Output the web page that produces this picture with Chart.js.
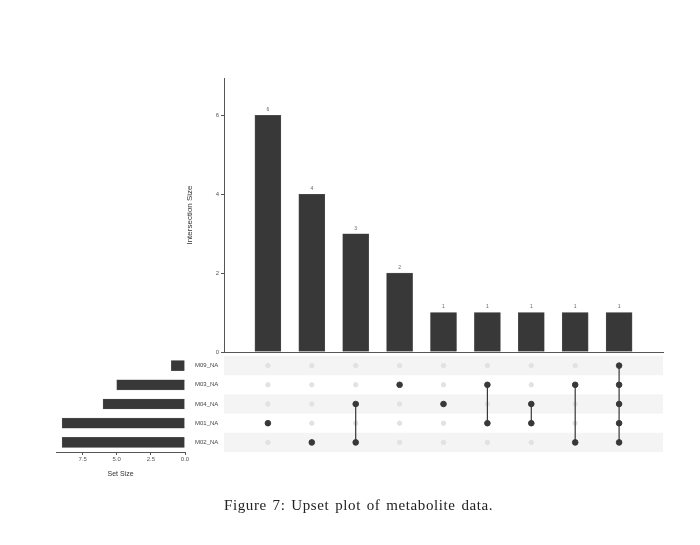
<!DOCTYPE html>
<html>
<head>
<meta charset="utf-8">
<script src="https://cdn.jsdelivr.net/npm/chart.js@4"></script>
<style>
	body { margin: 0; background: #fff; }
	#wrap { position: relative; width: 700px; height: 545px; }
	canvas { position: absolute; left: 0; top: 0; }
	#caption {
		position: absolute; left: 224px; top: 497px; white-space: nowrap;
		font-family: "Liberation Serif", serif; font-size: 15px; color: #222;
		letter-spacing: 0.6px; word-spacing: 1.5px;
	}
</style>
</head>
<body>
<div id="wrap">
	<canvas id="bars" width="700" height="545"></canvas>
	<canvas id="matrix" width="700" height="545"></canvas>
	<canvas id="sets" width="700" height="545"></canvas>
	<div id="caption">Figure 7: Upset plot of metabolite data.</div>
</div>
<script>
const setNames = ['M09_NA', 'M03_NA', 'M04_NA', 'M01_NA', 'M02_NA'];
const setSizes = [1, 5, 6, 9, 9];
const intersectionSizes = [6, 4, 3, 2, 1, 1, 1, 1, 1];
const intersectionSets = [
	['M01_NA'],
	['M02_NA'],
	['M04_NA', 'M02_NA'],
	['M03_NA'],
	['M04_NA'],
	['M03_NA', 'M01_NA'],
	['M04_NA', 'M01_NA'],
	['M03_NA', 'M02_NA'],
	['M09_NA', 'M03_NA', 'M04_NA', 'M01_NA', 'M02_NA'],
];
const sizeTicks = [0, 2, 4, 6];
const setSizeTicks = [0, 2.5, 5, 7.5];

const dark = '#383838';
const axisGrey = '#555';
const tickFont = { family: 'Liberation Sans', size: 6 };

// numbers above the intersection bars
const valueLabels = {
	id: 'valueLabels',
	afterDatasetsDraw(chart) {
		const ctx = chart.ctx;
		ctx.save();
		ctx.font = '5px "Liberation Sans"';
		ctx.fillStyle = '#666';
		ctx.textAlign = 'center';
		ctx.textBaseline = 'bottom';
		chart.getDatasetMeta(0).data.forEach((bar, i) => {
			ctx.fillText(intersectionSizes[i], bar.x, bar.y - 3);
		});
		ctx.restore();
	}
};

new Chart(document.getElementById('bars'), {
	type: 'bar',
	data: {
		datasets: [{
			data: intersectionSizes.map((v, i) => ({ x: i + 1, y: v })),
			backgroundColor: dark,
			borderColor: '#555',
			borderWidth: 0.6,
			barThickness: 26,
		}]
	},
	options: {
		responsive: false,
		animation: false,
		layout: { padding: { left: 184, top: 78, right: 37, bottom: 193 } },
		plugins: { legend: { display: false }, tooltip: { enabled: false } },
		scales: {
			x: {
				type: 'linear', min: 0, max: 10, offset: false,
				ticks: { display: false },
				grid: { display: false },
				border: { color: axisGrey, width: 1 },
				afterFit(s) { s.height = 0; },
			},
			y: {
				min: 0, max: 6.95,
				afterBuildTicks(s) { s.ticks = sizeTicks.map(v => ({ value: v })); },
				ticks: { font: tickFont, color: axisGrey, padding: 2 },
				grid: { drawOnChartArea: false, tickLength: 3, color: axisGrey },
				border: { color: axisGrey },
				title: {
					display: true, text: 'Intersection Size', color: '#333',
					font: { family: 'Liberation Sans', size: 8 }, padding: { top: 1 }
				},
				afterFit(s) { s.width = 40; },
			}
		}
	},
	plugins: [valueLabels]
});

// matrix of dots
const inactive = [];
const active = [];
const links = [];
intersectionSets.forEach((sets, i) => {
	const rows = [];
	setNames.forEach((name, j) => {
		if (sets.includes(name)) {
			active.push({ x: i + 1, y: j + 1 });
			rows.push(j + 1);
		} else {
			inactive.push({ x: i + 1, y: j + 1 });
		}
	});
	if (rows.length > 1) {
		links.push({
			type: 'line',
			data: [{ x: i + 1, y: Math.min(...rows) }, { x: i + 1, y: Math.max(...rows) }],
			borderColor: dark, borderWidth: 1.2, pointRadius: 0, order: 1,
		});
	}
});

const stripes = {
	id: 'stripes',
	beforeDatasetsDraw(chart) {
		const { ctx, chartArea, scales } = chart;
		ctx.save();
		ctx.fillStyle = '#f4f4f4';
		setNames.forEach((name, j) => {
			if (j % 2 !== 0) return;
			const a = scales.y.getPixelForValue(j + 0.5);
			const b = scales.y.getPixelForValue(j + 1.5);
			ctx.fillRect(chartArea.left, Math.min(a, b), chartArea.right - chartArea.left, Math.abs(b - a));
		});
		ctx.restore();
	}
};

new Chart(document.getElementById('matrix'), {
	type: 'scatter',
	data: {
		datasets: [
			{ data: active, backgroundColor: dark, borderColor: dark, pointRadius: 2.8, order: 0 },
			...links,
			{ data: inactive, backgroundColor: '#e2e2e2', borderColor: '#e2e2e2', pointRadius: 2.2, order: 2 },
		]
	},
	options: {
		responsive: false,
		animation: false,
		layout: { padding: { left: 224, top: 356, right: 37, bottom: 93 } },
		plugins: { legend: { display: false }, tooltip: { enabled: false } },
		scales: {
			x: { type: 'linear', min: 0, max: 10, display: false },
			y: { type: 'linear', min: 0.5, max: 5.5, reverse: true, display: false },
		}
	},
	plugins: [stripes]
});

// set size bars on the left
new Chart(document.getElementById('sets'), {
	type: 'bar',
	data: {
		labels: setNames,
		datasets: [{ data: setSizes, backgroundColor: dark, borderColor: '#555', borderWidth: 0.6, barThickness: 10 }]
	},
	options: {
		indexAxis: 'y',
		responsive: false,
		animation: false,
		layout: { padding: { left: 56, top: 356, right: 465, bottom: 63 } },
		plugins: { legend: { display: false }, tooltip: { enabled: false } },
		scales: {
			x: {
				min: 0, max: 9.45, reverse: true,
				afterBuildTicks(s) { s.ticks = setSizeTicks.map(v => ({ value: v })); },
				ticks: { font: tickFont, color: axisGrey, padding: 1, callback: v => v.toFixed(1) },
				grid: { drawOnChartArea: false, tickLength: 3, color: axisGrey },
				border: { color: axisGrey },
				title: {
					display: true, text: 'Set Size', color: '#333',
					font: { family: 'Liberation Sans', size: 7 }, padding: { top: 1 }
				},
				afterFit(s) { s.height = 30; },
			},
			y: {
				position: 'right',
				ticks: { font: tickFont, color: '#444', padding: 10 },
				grid: { display: false, drawTicks: false },
				border: { display: false },
				afterFit(s) { s.width = 50; },
			}
		}
	}
});
</script>
</body>
</html>
